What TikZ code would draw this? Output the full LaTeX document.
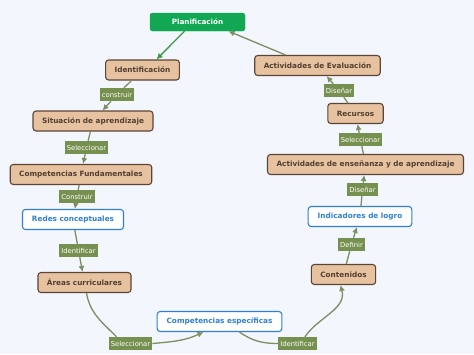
\documentclass[tikz,border=0pt]{standalone}
\usepackage{fontspec}
\setmainfont{DejaVu Sans}
\usepackage{tikz}
\usetikzlibrary{arrows.meta,positioning}

\definecolor{bgc}{HTML}{F3F6FC}
\definecolor{tanc}{HTML}{E6C2A0}
\definecolor{brownc}{HTML}{5B4636}
\definecolor{bluec}{HTML}{2F7FD9}
\definecolor{olivec}{HTML}{76904F}
\definecolor{linec}{HTML}{7A9060}
\definecolor{greenc}{HTML}{12A853}
\definecolor{darkgreen}{HTML}{3E9A48}

\begin{document}
\begin{tikzpicture}[
  x=1pt, y=-1pt,
  root/.style={rectangle, rounded corners=2.5pt, fill=greenc, draw=greenc, minimum width=95pt, minimum height=18pt, text=white, font=\fontsize{7.2}{8}\selectfont\bfseries},
  topic/.style={rectangle, rounded corners=3pt, draw=brownc, line width=1.1pt, fill=tanc, minimum height=20pt, inner xsep=9pt, text=brownc!90!black, font=\fontsize{7.3}{8}\selectfont\bfseries},
  sub/.style={rectangle, rounded corners=3pt, draw=bluec, line width=1.1pt, fill=white, minimum height=20pt, inner xsep=9.5pt, text=bluec, font=\fontsize{7.3}{8}\selectfont\bfseries},
  lab/.style={rectangle, fill=olivec, text=white, minimum height=13pt, inner xsep=2pt, inner ysep=0pt, font=\fontsize{6.8}{8}\selectfont},
  edge/.style={draw=linec, line width=1.3pt},
  >={Latex[length=6pt,width=6pt]}
]
\fill[bgc] (0,0) rectangle (474,354);

% nodes
\node[root] (plan) at (197.5,22) {Planificación};
\node[topic] (ident) at (142.5,70) {Identificación};
\node[topic] (evalua) at (317.5,65.5) {Actividades de Evaluación};
\node[topic] (recur) at (355.5,113.5) {Recursos};
\node[topic] (situa) at (93,121) {Situación de aprendizaje};
\node[topic] (activ) at (365.5,164.5) {Actividades de enseñanza y de aprendizaje};
\node[topic] (compfund) at (81,174.5) {Competencias Fundamentales};
\node[sub] (redes) at (73,219.5) {Redes conceptuales};
\node[sub] (indic) at (360,216.5) {Indicadores de logro};
\node[topic] (conte) at (343.5,274.5) {Contenidos};
\node[topic] (areas) at (84.5,282.5) {Áreas curriculares};
\node[sub] (compesp) at (219.5,321.5) {Competencias específicas};

% labels
\node[lab] (lconstruir) at (117,94.5) {construir};
\node[lab] (ldisenar) at (339,90.5) {Diseñar};
\node[lab] (lselecc) at (360.5,139.5) {Seleccionar};
\node[lab] (lselsit) at (86.5,147.5) {Seleccionar};
\node[lab] (ldisact) at (362.5,189.5) {Diseñar};
\node[lab] (lconstr) at (77,196.5) {Construir};
\node[lab] (lidentred) at (78.5,250.5) {Identificar};
\node[lab] (ldefinir) at (351.5,244.5) {Definir};
\node[lab] (lselarea) at (130.5,343.5) {Seleccionar};
\node[lab] (lidentcomp) at (297.5,343.5) {Identificar};

% connectors
\draw[edge, draw=darkgreen, ->] ([xshift=-13pt]plan.south) -- ([xshift=14pt]ident.north);
\draw[edge, ->] ([xshift=-32pt]evalua.north) -- ([xshift=31pt]plan.south);
\draw[edge] (ident) -- (lconstruir);
\draw[edge, ->] (lconstruir) -- (situa);
\draw[edge] (situa) -- (lselsit);
\draw[edge, ->] (lselsit) -- (compfund);
\draw[edge] (compfund) -- (lconstr);
\draw[edge, ->] (lconstr) -- (redes);
\draw[edge] (redes) -- (lidentred);
\draw[edge, ->] (lidentred) -- (areas);
\draw[edge] ([xshift=2pt]areas.south) to[out=-80, in=135] ([xshift=8pt]lselarea.north west);
\draw[edge, ->] (lselarea.east) to[out=5, in=205] ([xshift=-16pt]compesp.south);
\draw[edge] ([xshift=20pt]compesp.south) to[out=-35, in=180] (lidentcomp.west);
\draw[edge, ->] ([xshift=-12pt]lidentcomp.north east) to[out=55, in=-75] ([xshift=-3pt]conte.south);
\draw[edge] (conte) -- (ldefinir);
\draw[edge, ->] (ldefinir) -- (indic);
\draw[edge] (indic) -- (ldisact);
\draw[edge, ->] (ldisact) -- (activ);
\draw[edge] (activ) -- (lselecc);
\draw[edge, ->] (lselecc) -- (recur);
\draw[edge] (recur) -- (ldisenar);
\draw[edge, ->] (ldisenar) -- (evalua);
\end{tikzpicture}
\end{document}
